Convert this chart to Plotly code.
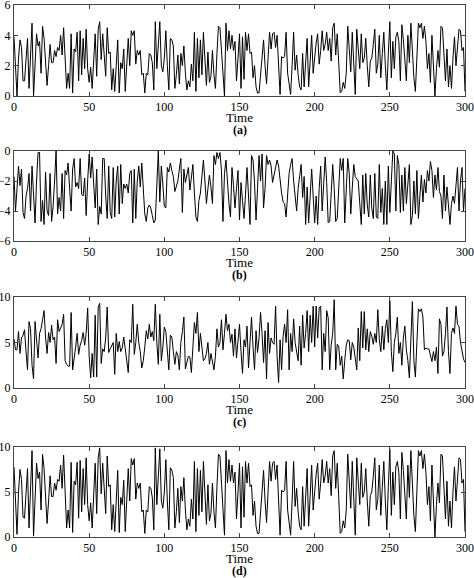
import plotly.graph_objects as go
from plotly.subplots import make_subplots

# time axis 0..300
time = list(range(301))

series_a = [
    3.9, 2.0, 0.0, 2.5, 3.7, 3.2, 1.0, 1.0, 2.5, 3.8,
    0.5, 2.5, 4.8, 0.0, 2.4, 4.1, 3.3, 3.6, 1.5, 4.6,
    3.8, 2.0, 0.7, 2.0, 3.4, 2.2, 2.2, 3.0, 2.6, 3.2,
    3.0, 4.0, 2.7, 4.5, 2.0, 0.5, 1.5, 0.5, 4.1, 0.2,
    3.1, 2.9, 4.2, 1.0, 4.3, 1.4, 3.8, 1.8, 4.4, 1.8,
    0.9, 1.9, 0.5, 2.5, 4.1, 1.3, 4.4, 4.9, 2.4, 4.1,
    2.5, 1.3, 4.5, 2.8, 2.9, 0.4, 1.8, 0.3, 2.0, 3.7,
    0.2, 2.2, 1.8, 3.1, 0.3, 2.0, 3.8, 2.0, 4.3, 4.0,
    4.3, 2.1, 3.0, 2.7, 3.0, 1.4, 1.5, 0.2, 1.5, 1.4,
    2.8, 2.7, 2.2, 0.4, 4.9, 1.8, 3.5, 4.9, 2.0, 1.6,
    2.5, 4.3, 2.0, 0.4, 3.8, 3.7, 3.3, 0.5, 1.4, 2.7,
    0.8, 2.8, 2.0, 3.3, 1.5, 0.4, 1.0, 0.6, 2.1, 1.0,
    4.2, 0.3, 3.8, 1.2, 3.7, 1.4, 4.2, 2.1, 0.7, 2.9,
    0.9, 1.3, 3.0, 1.4, 0.5, 2.8, 4.6, 4.5, 2.8, 1.0,
    0.0, 4.8, 3.0, 4.3, 3.1, 4.0, 3.0, 3.6, 1.0, 2.5,
    4.1, 0.5, 3.9, 1.1, 4.2, 3.0, 4.1, 2.8, 2.9, 1.2,
    2.0, 0.6, 0.2, 0.2, 1.5, 2.5, 3.7, 2.0, 0.8, 2.5,
    4.2, 3.1, 4.1, 4.2, 3.2, 4.0, 1.7, 0.1, 2.6, 2.5,
    2.6, 4.2, 1.5, 0.8, 0.1, 2.0, 4.2, 1.7, 2.7, 1.4,
    0.6, 0.4, 2.8, 0.6, 2.2, 3.8, 0.6, 2.0, 4.0, 1.5,
    2.7, 3.5, 4.1, 2.1, 3.0, 4.3, 3.0, 3.4, 4.2, 3.0,
    3.8, 2.3, 4.5, 4.8, 2.7, 4.1, 2.2, 0.2, 0.3, 0.9,
    0.5, 1.5, 4.6, 2.8, 1.6, 4.2, 2.0, 0.1, 4.4, 2.7,
    1.8, 4.1, 2.2, 2.5, 3.8, 2.0, 0.6, 2.3, 2.5, 3.4,
    4.4, 1.5, 2.1, 4.0, 1.2, 2.8, 4.2, 2.0, 0.4, 2.8,
    4.9, 1.2, 3.6, 1.8, 3.9, 4.2, 3.6, 1.0, 4.7, 3.7,
    2.0, 1.0, 4.0, 2.2, 4.8, 2.5, 1.2, 0.3, 3.0, 4.8,
    4.5, 4.8, 3.8, 4.6, 3.6, 1.8, 2.8, 0.9, 4.0, 2.0,
    0.0, 1.8, 3.0, 1.9, 4.6, 4.5, 2.2, 1.0, 3.1, 0.6,
    2.0, 0.5, 2.5, 3.9, 2.0, 3.5, 4.4, 4.3, 3.0, 3.2, 0.3,
]

series_b = [
    -1.7, -4.0, -2.5, -1.0, -2.3, -1.2, -4.1, -4.5, -3.0, -2.5,
    -1.5, -4.0, -1.0, -3.0, -4.8, -2.0, -0.1, -0.1, -4.7, -3.3,
    -4.9, -1.4, -4.0, -4.3, -1.5, -4.7, -3.7, -2.0, -0.0, -4.2,
    -3.1, -4.0, -1.5, -4.5, -1.3, -1.6, -0.8, -2.5, -4.0, -1.2,
    -0.5, -2.4, -2.1, -2.5, -0.5, -2.9, -3.0, -1.8, -4.3, -2.0,
    -0.2, -1.8, -0.4, -2.2, -3.8, -1.2, -4.9, -3.7, -4.2, -0.5,
    -0.5, -3.0, -4.5, -1.0, -4.1, -4.5, -1.1, -4.4, -2.0, -1.0,
    -4.2, -0.9, -3.5, -2.2, -2.5, -2.2, -2.8, -1.5, -1.3, -4.8,
    -1.2, -4.5, -2.0, -1.0, -2.4, -0.8, -3.0, -4.2, -4.7, -3.8,
    -3.6, -3.8, -4.3, -4.8, -4.6, -2.0, -0.0, -3.4, -1.0, -2.2,
    -3.7, -3.8, -1.1, -1.4, -0.8, -1.3, -1.7, -2.7, -2.3, -2.0,
    -1.2, -0.5, -4.1, -1.2, -2.1, -1.5, -1.1, -2.6, -1.8, -0.9,
    -2.8, -4.4, -4.7, -3.3, -2.8, -1.5, -0.6, -2.0, -3.5, -2.5,
    -1.6, -2.4, -3.5, -0.3, -0.9, -0.1, -0.5, -0.1, -1.3, -4.7,
    -1.5, -0.6, -2.3, -3.5, -4.4, -1.1, -2.3, -3.8, -2.5, -1.3,
    -4.6, -2.1, -3.3, -4.5, -2.9, -1.1, -3.0, -4.9, -0.3, -0.6,
    -2.1, -4.6, -2.5, -0.3, -2.0, -0.2, -3.8, -2.5, -0.3, -0.9,
    -0.6, -1.0, -2.1, -1.5, -0.9, -0.6, -1.0, -2.0, -2.8, -3.4,
    -3.5, -4.4, -2.8, -1.5, -0.9, -0.5, -2.0, -3.0, -4.0, -2.5,
    -1.6, -0.9, -3.1, -1.7, -4.9, -2.4, -4.8, -2.5, -1.2, -3.0,
    -4.8, -3.0, -4.9, -2.5, -1.0, -4.0, -2.2, -0.4, -2.1, -4.8,
    -4.7, -3.0, -0.9, -2.5, -4.7, -4.5, -2.5, -0.5, -1.3, -0.5,
    -4.8, -2.6, -0.5, -1.5, -4.2, -2.5, -0.9, -1.7, -1.9, -2.0,
    -3.5, -4.9, -1.6, -4.2, -1.5, -3.6, -4.4, -1.6, -3.8, -4.5,
    -1.5, -4.4, -4.5, -0.9, -4.1, -2.5, -4.9, -2.0, -4.9, -1.0,
    -4.1, -2.0, -0.0, -0.2, -4.0, -0.3, -0.9, -4.1, -1.6, -4.0,
    -1.1, -3.5, -2.2, -0.9, -4.9, -4.3, -2.0, -4.2, -1.3, -4.5,
    -3.0, -1.6, -3.4, -1.9, -2.8, -1.3, -2.0, -0.7, -1.3, -3.1,
    -1.6, -2.6, -1.1, -2.7, -3.0, -4.5, -1.6, -4.0, -2.4, -3.5,
    -4.9, -3.5, -3.0, -3.5, -2.4, -1.1, -4.0, -2.0, -1.1, -4.0, -2.5,
]

series_c = [
    5.4, 4.2, 4.2, 6.2, 3.8, 5.5, 5.8, 6.4, 4.0, 2.0,
    7.3, 6.5, 2.5, 1.0, 7.3, 5.0, 3.3, 6.0, 6.5, 7.5,
    8.5, 5.5, 3.8, 6.1, 5.0, 6.9, 5.3, 5.6, 2.7, 7.5,
    6.2, 6.6, 7.0, 8.1, 3.0, 2.6, 2.4, 2.4, 8.3, 2.0,
    3.6, 4.5, 6.0, 3.7, 4.7, 5.2, 6.1, 4.7, 6.0, 8.8,
    3.5, 1.1, 3.8, 1.2, 8.0, 1.2, 8.9, 9.3, 2.7, 4.3,
    4.0, 5.5, 8.9, 3.9, 4.3, 4.6, 5.0, 1.5, 6.0, 4.0,
    5.1, 4.0, 4.4, 5.6, 4.1, 3.0, 1.7, 5.3, 5.0, 9.2,
    3.7, 5.0, 7.0, 5.0, 4.0, 2.2, 3.0, 4.5, 6.3, 5.4,
    7.0, 5.6, 6.2, 5.2, 9.2, 5.0, 2.6, 8.1, 3.0, 4.5,
    6.7, 6.2, 4.0, 2.0, 5.8, 5.6, 4.0, 2.6, 4.0, 3.6,
    2.0, 5.0, 6.2, 7.8, 2.1, 2.8, 3.5, 3.4, 1.7, 4.5,
    7.2, 6.0, 8.3, 4.0, 6.0, 4.5, 3.0, 3.2, 3.8, 5.0,
    2.6, 3.8, 3.0, 2.0, 3.5, 6.5, 4.5, 5.0, 7.5, 4.2,
    6.0, 8.1, 6.3, 7.0, 5.0, 5.9, 3.5, 6.5, 3.3, 5.2,
    7.0, 4.0, 1.6, 5.3, 4.5, 6.8, 2.2, 5.0, 7.8, 4.5,
    2.0, 6.3, 3.9, 5.5, 8.3, 6.0, 2.8, 6.3, 1.0, 7.2,
    3.8, 5.5, 5.0, 4.8, 9.0, 3.5, 0.6, 5.3, 2.0, 5.7,
    7.0, 5.0, 8.6, 2.0, 6.0, 4.0, 7.6, 5.0, 4.0, 3.0,
    6.8, 2.5, 8.0, 4.4, 6.0, 8.5, 4.0, 8.0, 5.0, 9.0,
    4.5, 9.0, 5.5, 8.8, 9.0, 2.0, 6.0, 4.0, 8.5, 7.7,
    2.0, 4.7, 6.0, 9.7, 2.0, 4.8, 4.6, 2.5, 3.5, 1.0,
    3.0, 4.7, 5.3, 5.2, 3.1, 5.0, 4.5, 3.0, 2.0, 6.6,
    3.0, 8.4, 4.4, 8.4, 4.2, 6.5, 4.0, 6.2, 5.7, 4.8,
    6.0, 5.0, 8.6, 5.3, 4.0, 6.8, 4.2, 6.5, 7.5, 5.0,
    9.6, 4.0, 1.8, 5.0, 6.0, 7.8, 3.8, 5.0, 2.5, 5.5,
    6.8, 4.2, 3.0, 1.1, 6.0, 9.5, 3.0, 1.2, 5.0, 8.7,
    8.4, 8.7, 7.8, 4.2, 4.4, 4.3, 4.3, 3.7, 2.9, 4.0,
    3.0, 4.5, 1.6, 7.6, 7.0, 3.5, 4.0, 6.0, 8.9, 4.0,
    1.6, 6.0, 6.6, 6.0, 9.0, 7.0, 6.8, 5.0, 4.0, 3.2, 2.8,
]

series_d = [
    7.8, 4.0, 0.3, 5.0, 7.5, 6.4, 2.2, 2.1, 5.0, 7.6,
    1.0, 5.0, 9.6, 0.1, 4.8, 8.2, 6.5, 7.2, 3.0, 9.2,
    7.6, 4.0, 1.5, 4.0, 6.8, 4.5, 4.5, 6.0, 5.2, 6.4,
    6.2, 8.0, 5.4, 9.1, 4.0, 1.0, 3.0, 1.0, 8.3, 0.5,
    6.2, 5.8, 8.3, 2.1, 8.5, 2.8, 7.6, 3.6, 8.8, 3.6,
    1.8, 3.8, 1.0, 5.0, 8.2, 2.6, 8.8, 9.9, 4.8, 8.2,
    5.0, 2.6, 9.0, 5.6, 5.8, 0.8, 3.6, 0.6, 4.0, 7.4,
    0.5, 4.4, 3.6, 6.3, 0.6, 4.0, 7.6, 4.0, 8.7, 8.0,
    8.7, 4.2, 6.0, 5.4, 6.0, 2.8, 3.0, 0.4, 3.0, 2.8,
    5.6, 5.4, 4.4, 0.8, 9.9, 3.6, 7.0, 9.8, 4.0, 3.2,
    5.0, 8.6, 4.0, 0.8, 7.7, 7.4, 6.6, 1.0, 2.8, 5.4,
    1.6, 5.6, 4.0, 6.6, 3.0, 0.8, 2.0, 1.2, 4.2, 2.0,
    8.4, 0.6, 7.6, 2.4, 7.4, 2.8, 8.4, 4.2, 1.4, 5.8,
    1.8, 2.6, 6.0, 2.8, 1.0, 5.6, 9.2, 9.0, 5.6, 2.0,
    0.2, 9.6, 6.0, 8.6, 6.2, 8.0, 6.0, 7.2, 2.0, 5.0,
    8.2, 1.0, 7.8, 2.2, 8.4, 6.0, 8.2, 5.6, 5.8, 2.4,
    4.0, 1.2, 0.4, 0.4, 3.0, 5.0, 7.4, 4.0, 1.6, 5.0,
    8.4, 6.2, 8.2, 8.4, 6.4, 8.0, 3.4, 0.2, 5.2, 5.0,
    5.2, 8.4, 3.0, 1.6, 0.2, 4.0, 8.4, 3.4, 5.4, 2.8,
    1.2, 0.8, 5.6, 1.2, 4.4, 7.6, 1.2, 4.0, 8.0, 3.0,
    5.4, 7.0, 8.2, 4.2, 6.0, 8.6, 6.0, 6.8, 8.4, 6.0,
    7.6, 4.6, 9.0, 9.6, 5.4, 8.2, 4.4, 0.4, 0.6, 1.8,
    1.0, 3.0, 9.2, 5.6, 3.2, 8.4, 4.0, 0.2, 8.8, 5.4,
    3.6, 8.2, 4.4, 5.0, 7.6, 4.0, 1.2, 4.6, 5.0, 6.8,
    8.8, 3.0, 4.2, 8.0, 2.4, 5.6, 8.4, 4.0, 0.8, 5.6,
    9.8, 2.4, 7.2, 3.6, 7.8, 8.4, 7.2, 2.0, 9.4, 7.4,
    4.0, 2.0, 8.0, 4.4, 9.6, 5.0, 2.4, 0.6, 6.0, 9.6,
    9.0, 9.6, 7.6, 9.2, 7.2, 3.6, 5.6, 1.8, 8.0, 4.0,
    0.0, 3.6, 6.0, 3.8, 9.2, 9.0, 4.4, 2.0, 6.2, 1.2,
    4.0, 1.0, 5.0, 7.8, 4.0, 7.0, 8.8, 8.6, 6.0, 6.4, 0.6,
]

panel_labels = ["(a)", "(b)", "(c)", "(d)"]
y_ranges = [[0, 6], [-6, 0], [0, 10], [0, 10]]
y_ticks = [[0, 2, 4, 6], [-6, -4, -2, 0], [0, 5, 10], [0, 5, 10]]
x_ticks = [0, 50, 100, 150, 200, 250, 300]

W, H = 474, 578
ML, MR, MT, MB = 14, 9, 5, 41
# panel top/bottom in pixels
panel_px = [(5, 96), (151, 241), (297, 388), (447, 537)]

def ypaper(px):
    return (H - MB - px) / (H - MT - MB)

fig = make_subplots(rows=4, cols=1)
font = "Liberation Serif, Times New Roman, serif"

for i, ys in enumerate([series_a, series_b, series_c, series_d]):
    fig.add_trace(go.Scatter(x=time, y=ys, mode="lines",
                             line=dict(color="black", width=1),
                             showlegend=False), row=i + 1, col=1)
    top, bot = panel_px[i]
    axis_style = dict(showline=True, mirror="ticks", ticks="inside", ticklen=4,
                      linecolor="#444", linewidth=1, tickcolor="#444",
                      showgrid=False, zeroline=False, automargin=False,
                      ticklabeloverflow="allow",
                      tickfont=dict(family=font, size=12, color="black"))
    fig.update_xaxes(range=[0, 300], tickvals=x_ticks, row=i + 1, col=1, **axis_style)
    fig.update_yaxes(range=y_ranges[i], tickvals=y_ticks[i],
                     domain=[ypaper(bot), ypaper(top)], row=i + 1, col=1, **axis_style)
    fig.add_annotation(text="Time", xref="paper", yref="paper", x=0.5, y=ypaper(bot + 21),
                       yanchor="middle", showarrow=False,
                       font=dict(family=font, size=13, color="black"))
    fig.add_annotation(text="<b>%s</b>" % panel_labels[i], xref="paper", yref="paper",
                       x=0.5, y=ypaper(bot + 34), yanchor="middle", showarrow=False,
                       font=dict(family=font, size=12, color="black"))

fig.update_layout(width=W, height=H, margin=dict(l=ML, r=MR, t=MT, b=MB),
                  plot_bgcolor="white", paper_bgcolor="white")

# drop the default page margin so the figure sits at the window corner
fig.write_html("out.html", config={"displayModeBar": False},
               post_script="document.body.style.margin='0';")
